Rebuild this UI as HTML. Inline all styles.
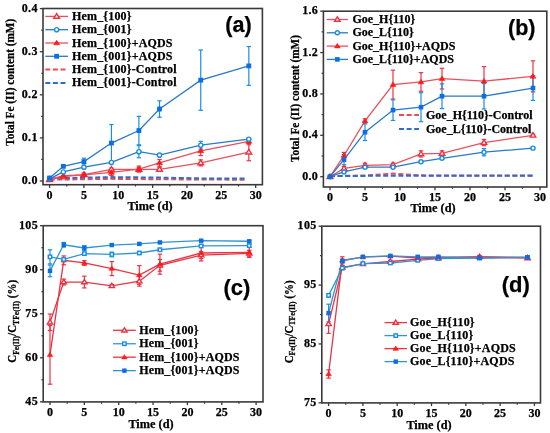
<!DOCTYPE html>
<html><head><meta charset="utf-8"><title>Fe(II) figure</title>
<style>html,body{margin:0;padding:0;background:#fff;}body{width:550px;height:433px;overflow:hidden;}svg{display:block;filter:blur(0.3px);font-size:12px;} text{stroke:#000;stroke-width:0.25px;fill:#000;} .s{font-family:"Liberation Serif",serif;font-weight:bold;} .a{font-family:"Liberation Sans",sans-serif;font-weight:bold;}</style>
</head><body>
<svg width="550" height="433" viewBox="0 0 550 433">
<rect width="550" height="433" fill="#fff"/>
<rect x="43" y="8.5" width="219.4" height="176.2" fill="none" stroke="#3a3a3a" stroke-width="1.6"/>
<line x1="49.6" y1="184.7" x2="49.6" y2="187.9" stroke="#3a3a3a" stroke-width="1.3" />
<text class="s" x="49.6" y="198.7" text-anchor="middle">0</text>
<line x1="83.95" y1="184.7" x2="83.95" y2="187.9" stroke="#3a3a3a" stroke-width="1.3" />
<text class="s" x="83.95" y="198.7" text-anchor="middle">5</text>
<line x1="118.3" y1="184.7" x2="118.3" y2="187.9" stroke="#3a3a3a" stroke-width="1.3" />
<text class="s" x="118.3" y="198.7" text-anchor="middle">10</text>
<line x1="152.65" y1="184.7" x2="152.65" y2="187.9" stroke="#3a3a3a" stroke-width="1.3" />
<text class="s" x="152.65" y="198.7" text-anchor="middle">15</text>
<line x1="187" y1="184.7" x2="187" y2="187.9" stroke="#3a3a3a" stroke-width="1.3" />
<text class="s" x="187" y="198.7" text-anchor="middle">20</text>
<line x1="221.35" y1="184.7" x2="221.35" y2="187.9" stroke="#3a3a3a" stroke-width="1.3" />
<text class="s" x="221.35" y="198.7" text-anchor="middle">25</text>
<line x1="255.7" y1="184.7" x2="255.7" y2="187.9" stroke="#3a3a3a" stroke-width="1.3" />
<text class="s" x="255.7" y="198.7" text-anchor="middle">30</text>
<line x1="66.78" y1="184.7" x2="66.78" y2="186.5" stroke="#3a3a3a" stroke-width="1.2" />
<line x1="101.12" y1="184.7" x2="101.12" y2="186.5" stroke="#3a3a3a" stroke-width="1.2" />
<line x1="135.47" y1="184.7" x2="135.47" y2="186.5" stroke="#3a3a3a" stroke-width="1.2" />
<line x1="169.83" y1="184.7" x2="169.83" y2="186.5" stroke="#3a3a3a" stroke-width="1.2" />
<line x1="204.17" y1="184.7" x2="204.17" y2="186.5" stroke="#3a3a3a" stroke-width="1.2" />
<line x1="238.53" y1="184.7" x2="238.53" y2="186.5" stroke="#3a3a3a" stroke-width="1.2" />
<line x1="39.8" y1="181" x2="43" y2="181" stroke="#3a3a3a" stroke-width="1.3" />
<text class="s" x="37.8" y="184" text-anchor="end" letter-spacing="0.35">0.0</text>
<line x1="39.8" y1="137.9" x2="43" y2="137.9" stroke="#3a3a3a" stroke-width="1.3" />
<text class="s" x="37.8" y="140.9" text-anchor="end" letter-spacing="0.35">0.1</text>
<line x1="39.8" y1="94.8" x2="43" y2="94.8" stroke="#3a3a3a" stroke-width="1.3" />
<text class="s" x="37.8" y="97.8" text-anchor="end" letter-spacing="0.35">0.2</text>
<line x1="39.8" y1="51.7" x2="43" y2="51.7" stroke="#3a3a3a" stroke-width="1.3" />
<text class="s" x="37.8" y="54.7" text-anchor="end" letter-spacing="0.35">0.3</text>
<line x1="39.8" y1="8.6" x2="43" y2="8.6" stroke="#3a3a3a" stroke-width="1.3" />
<text class="s" x="37.8" y="11.6" text-anchor="end" letter-spacing="0.35">0.4</text>
<line x1="41.2" y1="159.45" x2="43" y2="159.45" stroke="#3a3a3a" stroke-width="1.2" />
<line x1="41.2" y1="116.35" x2="43" y2="116.35" stroke="#3a3a3a" stroke-width="1.2" />
<line x1="41.2" y1="73.25" x2="43" y2="73.25" stroke="#3a3a3a" stroke-width="1.2" />
<line x1="41.2" y1="30.15" x2="43" y2="30.15" stroke="#3a3a3a" stroke-width="1.2" />
<text class="s" x="150" y="210.3" font-size="12.3" text-anchor="middle">Time (d)</text>
<text class="s" transform="translate(14,82.3) rotate(-90) scale(1,1.1)" font-size="11.25" text-anchor="middle">Total Fe (II) content (mM)</text>
<text class="a" x="225.3" y="31.6" font-size="21.5">(a)</text>
<polyline points="49.6,179.71 111.43,178.84 159.52,179.28 245.4,179.71" fill="none" stroke="#f04a55" stroke-width="2" stroke-dasharray="5,2.6"/>
<polyline points="49.6,178.41 111.43,177.12 159.52,177.55 200.74,178.41 245.4,178.41" fill="none" stroke="#2a6fd0" stroke-width="2" stroke-dasharray="5,2.6"/>
<polyline points="49.6,179.71 63.34,176.69 83.95,174.53 111.43,169.36 138.91,169.36 159.52,169.36 200.74,162.9 248.83,152.12" fill="none" stroke="#e8505c" stroke-width="1.3"/>
<polyline points="49.6,179.28 63.34,175.61 83.95,174.97 111.43,172.38 138.91,169.15 159.52,162.9 200.74,150.83 248.83,141.35" fill="none" stroke="#e8505c" stroke-width="1.3"/>
<polyline points="49.6,178.84 63.34,171.95 83.95,167.21 111.43,162.47 138.91,151.69 159.52,155.14 200.74,145.23 248.83,139.19" fill="none" stroke="#2a78c8" stroke-width="1.3"/>
<polyline points="49.6,177.98 63.34,166.35 83.95,161.6 111.43,143.07 138.91,130.57 159.52,109.02 200.74,80.15 248.83,65.92" fill="none" stroke="#2a78c8" stroke-width="1.3"/>
<line x1="83.95" y1="173.24" x2="83.95" y2="175.83" stroke="#f03040" stroke-width="1.2" />
<line x1="81.75" y1="173.24" x2="86.15" y2="173.24" stroke="#f03040" stroke-width="1.2" />
<line x1="81.75" y1="175.83" x2="86.15" y2="175.83" stroke="#f03040" stroke-width="1.2" />
<line x1="111.43" y1="168.07" x2="111.43" y2="170.66" stroke="#f03040" stroke-width="1.2" />
<line x1="109.23" y1="168.07" x2="113.63" y2="168.07" stroke="#f03040" stroke-width="1.2" />
<line x1="109.23" y1="170.66" x2="113.63" y2="170.66" stroke="#f03040" stroke-width="1.2" />
<line x1="138.91" y1="167.64" x2="138.91" y2="171.09" stroke="#f03040" stroke-width="1.2" />
<line x1="136.71" y1="167.64" x2="141.11" y2="167.64" stroke="#f03040" stroke-width="1.2" />
<line x1="136.71" y1="171.09" x2="141.11" y2="171.09" stroke="#f03040" stroke-width="1.2" />
<line x1="159.52" y1="167.64" x2="159.52" y2="171.09" stroke="#f03040" stroke-width="1.2" />
<line x1="157.32" y1="167.64" x2="161.72" y2="167.64" stroke="#f03040" stroke-width="1.2" />
<line x1="157.32" y1="171.09" x2="161.72" y2="171.09" stroke="#f03040" stroke-width="1.2" />
<line x1="200.74" y1="159.88" x2="200.74" y2="165.91" stroke="#f03040" stroke-width="1.2" />
<line x1="198.54" y1="159.88" x2="202.94" y2="159.88" stroke="#f03040" stroke-width="1.2" />
<line x1="198.54" y1="165.91" x2="202.94" y2="165.91" stroke="#f03040" stroke-width="1.2" />
<line x1="248.83" y1="143.5" x2="248.83" y2="160.74" stroke="#f03040" stroke-width="1.2" />
<line x1="246.63" y1="143.5" x2="251.03" y2="143.5" stroke="#f03040" stroke-width="1.2" />
<line x1="246.63" y1="160.74" x2="251.03" y2="160.74" stroke="#f03040" stroke-width="1.2" />
<line x1="83.95" y1="173.24" x2="83.95" y2="176.69" stroke="#f03040" stroke-width="1.2" />
<line x1="81.75" y1="173.24" x2="86.15" y2="173.24" stroke="#f03040" stroke-width="1.2" />
<line x1="81.75" y1="176.69" x2="86.15" y2="176.69" stroke="#f03040" stroke-width="1.2" />
<line x1="111.43" y1="169.36" x2="111.43" y2="175.4" stroke="#f03040" stroke-width="1.2" />
<line x1="109.23" y1="169.36" x2="113.63" y2="169.36" stroke="#f03040" stroke-width="1.2" />
<line x1="109.23" y1="175.4" x2="113.63" y2="175.4" stroke="#f03040" stroke-width="1.2" />
<line x1="138.91" y1="166.13" x2="138.91" y2="172.16" stroke="#f03040" stroke-width="1.2" />
<line x1="136.71" y1="166.13" x2="141.11" y2="166.13" stroke="#f03040" stroke-width="1.2" />
<line x1="136.71" y1="172.16" x2="141.11" y2="172.16" stroke="#f03040" stroke-width="1.2" />
<line x1="159.52" y1="159.45" x2="159.52" y2="166.35" stroke="#f03040" stroke-width="1.2" />
<line x1="157.32" y1="159.45" x2="161.72" y2="159.45" stroke="#f03040" stroke-width="1.2" />
<line x1="157.32" y1="166.35" x2="161.72" y2="166.35" stroke="#f03040" stroke-width="1.2" />
<line x1="200.74" y1="146.09" x2="200.74" y2="155.57" stroke="#f03040" stroke-width="1.2" />
<line x1="198.54" y1="146.09" x2="202.94" y2="146.09" stroke="#f03040" stroke-width="1.2" />
<line x1="198.54" y1="155.57" x2="202.94" y2="155.57" stroke="#f03040" stroke-width="1.2" />
<line x1="248.83" y1="137.9" x2="248.83" y2="144.8" stroke="#f03040" stroke-width="1.2" />
<line x1="246.63" y1="137.9" x2="251.03" y2="137.9" stroke="#f03040" stroke-width="1.2" />
<line x1="246.63" y1="144.8" x2="251.03" y2="144.8" stroke="#f03040" stroke-width="1.2" />
<line x1="138.91" y1="145.66" x2="138.91" y2="157.73" stroke="#1a8ee0" stroke-width="1.2" />
<line x1="136.71" y1="145.66" x2="141.11" y2="145.66" stroke="#1a8ee0" stroke-width="1.2" />
<line x1="136.71" y1="157.73" x2="141.11" y2="157.73" stroke="#1a8ee0" stroke-width="1.2" />
<line x1="159.52" y1="153.85" x2="159.52" y2="156.43" stroke="#1a8ee0" stroke-width="1.2" />
<line x1="157.32" y1="153.85" x2="161.72" y2="153.85" stroke="#1a8ee0" stroke-width="1.2" />
<line x1="157.32" y1="156.43" x2="161.72" y2="156.43" stroke="#1a8ee0" stroke-width="1.2" />
<line x1="200.74" y1="141.35" x2="200.74" y2="149.11" stroke="#1a8ee0" stroke-width="1.2" />
<line x1="198.54" y1="141.35" x2="202.94" y2="141.35" stroke="#1a8ee0" stroke-width="1.2" />
<line x1="198.54" y1="149.11" x2="202.94" y2="149.11" stroke="#1a8ee0" stroke-width="1.2" />
<line x1="248.83" y1="137.9" x2="248.83" y2="140.49" stroke="#1a8ee0" stroke-width="1.2" />
<line x1="246.63" y1="137.9" x2="251.03" y2="137.9" stroke="#1a8ee0" stroke-width="1.2" />
<line x1="246.63" y1="140.49" x2="251.03" y2="140.49" stroke="#1a8ee0" stroke-width="1.2" />
<line x1="83.95" y1="158.16" x2="83.95" y2="165.05" stroke="#1a8ee0" stroke-width="1.2" />
<line x1="81.75" y1="158.16" x2="86.15" y2="158.16" stroke="#1a8ee0" stroke-width="1.2" />
<line x1="81.75" y1="165.05" x2="86.15" y2="165.05" stroke="#1a8ee0" stroke-width="1.2" />
<line x1="111.43" y1="124.54" x2="111.43" y2="161.6" stroke="#1a8ee0" stroke-width="1.2" />
<line x1="109.23" y1="124.54" x2="113.63" y2="124.54" stroke="#1a8ee0" stroke-width="1.2" />
<line x1="109.23" y1="161.6" x2="113.63" y2="161.6" stroke="#1a8ee0" stroke-width="1.2" />
<line x1="138.91" y1="116.35" x2="138.91" y2="144.8" stroke="#1a8ee0" stroke-width="1.2" />
<line x1="136.71" y1="116.35" x2="141.11" y2="116.35" stroke="#1a8ee0" stroke-width="1.2" />
<line x1="136.71" y1="144.8" x2="141.11" y2="144.8" stroke="#1a8ee0" stroke-width="1.2" />
<line x1="159.52" y1="100.83" x2="159.52" y2="117.21" stroke="#1a8ee0" stroke-width="1.2" />
<line x1="157.32" y1="100.83" x2="161.72" y2="100.83" stroke="#1a8ee0" stroke-width="1.2" />
<line x1="157.32" y1="117.21" x2="161.72" y2="117.21" stroke="#1a8ee0" stroke-width="1.2" />
<line x1="200.74" y1="49.98" x2="200.74" y2="110.32" stroke="#1a8ee0" stroke-width="1.2" />
<line x1="198.54" y1="49.98" x2="202.94" y2="49.98" stroke="#1a8ee0" stroke-width="1.2" />
<line x1="198.54" y1="110.32" x2="202.94" y2="110.32" stroke="#1a8ee0" stroke-width="1.2" />
<line x1="248.83" y1="46.53" x2="248.83" y2="85.32" stroke="#1a8ee0" stroke-width="1.2" />
<line x1="246.63" y1="46.53" x2="251.03" y2="46.53" stroke="#1a8ee0" stroke-width="1.2" />
<line x1="246.63" y1="85.32" x2="251.03" y2="85.32" stroke="#1a8ee0" stroke-width="1.2" />
<polygon points="49.6,176.9 52.48,181.58 46.72,181.58" fill="#fff" stroke="#f03040" stroke-width="1.4"/>
<polygon points="63.34,173.88 66.22,178.56 60.46,178.56" fill="#fff" stroke="#f03040" stroke-width="1.4"/>
<polygon points="83.95,171.73 86.83,176.41 81.07,176.41" fill="#fff" stroke="#f03040" stroke-width="1.4"/>
<polygon points="111.43,166.56 114.31,171.24 108.55,171.24" fill="#fff" stroke="#f03040" stroke-width="1.4"/>
<polygon points="138.91,166.56 141.79,171.24 136.03,171.24" fill="#fff" stroke="#f03040" stroke-width="1.4"/>
<polygon points="159.52,166.56 162.4,171.24 156.64,171.24" fill="#fff" stroke="#f03040" stroke-width="1.4"/>
<polygon points="200.74,160.09 203.62,164.77 197.86,164.77" fill="#fff" stroke="#f03040" stroke-width="1.4"/>
<polygon points="248.83,149.31 251.71,154 245.95,154" fill="#fff" stroke="#f03040" stroke-width="1.4"/>
<polygon points="49.6,176.47 52.6,181.15 46.6,181.15" fill="#ff1a1a" stroke="#ff1a1a" stroke-width="0.6"/>
<polygon points="63.34,172.8 66.34,177.48 60.34,177.48" fill="#ff1a1a" stroke="#ff1a1a" stroke-width="0.6"/>
<polygon points="83.95,172.16 86.95,176.84 80.95,176.84" fill="#ff1a1a" stroke="#ff1a1a" stroke-width="0.6"/>
<polygon points="111.43,169.57 114.43,174.25 108.43,174.25" fill="#ff1a1a" stroke="#ff1a1a" stroke-width="0.6"/>
<polygon points="138.91,166.34 141.91,171.02 135.91,171.02" fill="#ff1a1a" stroke="#ff1a1a" stroke-width="0.6"/>
<polygon points="159.52,160.09 162.52,164.77 156.52,164.77" fill="#ff1a1a" stroke="#ff1a1a" stroke-width="0.6"/>
<polygon points="200.74,148.02 203.74,152.7 197.74,152.7" fill="#ff1a1a" stroke="#ff1a1a" stroke-width="0.6"/>
<polygon points="248.83,138.54 251.83,143.22 245.83,143.22" fill="#ff1a1a" stroke="#ff1a1a" stroke-width="0.6"/>
<circle cx="49.6" cy="178.84" r="2.1" fill="#fff" stroke="#1a8ee0" stroke-width="1.4"/>
<circle cx="63.34" cy="171.95" r="2.1" fill="#fff" stroke="#1a8ee0" stroke-width="1.4"/>
<circle cx="83.95" cy="167.21" r="2.1" fill="#fff" stroke="#1a8ee0" stroke-width="1.4"/>
<circle cx="111.43" cy="162.47" r="2.1" fill="#fff" stroke="#1a8ee0" stroke-width="1.4"/>
<circle cx="138.91" cy="151.69" r="2.1" fill="#fff" stroke="#1a8ee0" stroke-width="1.4"/>
<circle cx="159.52" cy="155.14" r="2.1" fill="#fff" stroke="#1a8ee0" stroke-width="1.4"/>
<circle cx="200.74" cy="145.23" r="2.1" fill="#fff" stroke="#1a8ee0" stroke-width="1.4"/>
<circle cx="248.83" cy="139.19" r="2.1" fill="#fff" stroke="#1a8ee0" stroke-width="1.4"/>
<rect x="47.2" y="175.58" width="4.8" height="4.8" fill="#0a6ee6"/>
<rect x="60.94" y="163.95" width="4.8" height="4.8" fill="#0a6ee6"/>
<rect x="81.55" y="159.2" width="4.8" height="4.8" fill="#0a6ee6"/>
<rect x="109.03" y="140.67" width="4.8" height="4.8" fill="#0a6ee6"/>
<rect x="136.51" y="128.17" width="4.8" height="4.8" fill="#0a6ee6"/>
<rect x="157.12" y="106.62" width="4.8" height="4.8" fill="#0a6ee6"/>
<rect x="198.34" y="77.75" width="4.8" height="4.8" fill="#0a6ee6"/>
<rect x="246.43" y="63.52" width="4.8" height="4.8" fill="#0a6ee6"/>
<line x1="45.3" y1="16.4" x2="68" y2="16.4" stroke="#e8505c" stroke-width="1.3" />
<polygon points="56.65,13.59 59.53,18.27 53.77,18.27" fill="#fff" stroke="#f03040" stroke-width="1.4"/>
<text class="s" x="72" y="19.9" letter-spacing="0.17">Hem_{100}</text>
<line x1="45.3" y1="29.7" x2="68" y2="29.7" stroke="#2a78c8" stroke-width="1.3" />
<circle cx="56.65" cy="29.7" r="2.1" fill="#fff" stroke="#1a8ee0" stroke-width="1.4"/>
<text class="s" x="72" y="33.2" letter-spacing="0.17">Hem_{001}</text>
<line x1="45.3" y1="43" x2="68" y2="43" stroke="#e8505c" stroke-width="1.3" />
<polygon points="56.65,40.19 59.65,44.87 53.65,44.87" fill="#ff1a1a" stroke="#ff1a1a" stroke-width="0.6"/>
<text class="s" x="72" y="46.5" letter-spacing="0.17">Hem_{100}+AQDS</text>
<line x1="45.3" y1="56.3" x2="68" y2="56.3" stroke="#2a78c8" stroke-width="1.3" />
<rect x="54.25" y="53.9" width="4.8" height="4.8" fill="#0a6ee6"/>
<text class="s" x="72" y="59.8" letter-spacing="0.17">Hem_{001}+AQDS</text>
<line x1="45.3" y1="69.6" x2="65.5" y2="69.6" stroke="#f04a55" stroke-width="2" stroke-dasharray="5,2.6"/>
<text class="s" x="72" y="73.1" letter-spacing="0.17">Hem_{100}-Control</text>
<line x1="45.3" y1="82.9" x2="65.5" y2="82.9" stroke="#2a6fd0" stroke-width="2" stroke-dasharray="5,2.6"/>
<text class="s" x="72" y="86.4" letter-spacing="0.17">Hem_{001}-Control</text>
<rect x="323.4" y="11.2" width="223.4" height="175.8" fill="none" stroke="#3a3a3a" stroke-width="1.6"/>
<line x1="330" y1="187" x2="330" y2="190.2" stroke="#3a3a3a" stroke-width="1.3" />
<text class="s" x="330" y="201" text-anchor="middle">0</text>
<line x1="365" y1="187" x2="365" y2="190.2" stroke="#3a3a3a" stroke-width="1.3" />
<text class="s" x="365" y="201" text-anchor="middle">5</text>
<line x1="400" y1="187" x2="400" y2="190.2" stroke="#3a3a3a" stroke-width="1.3" />
<text class="s" x="400" y="201" text-anchor="middle">10</text>
<line x1="435" y1="187" x2="435" y2="190.2" stroke="#3a3a3a" stroke-width="1.3" />
<text class="s" x="435" y="201" text-anchor="middle">15</text>
<line x1="470" y1="187" x2="470" y2="190.2" stroke="#3a3a3a" stroke-width="1.3" />
<text class="s" x="470" y="201" text-anchor="middle">20</text>
<line x1="505" y1="187" x2="505" y2="190.2" stroke="#3a3a3a" stroke-width="1.3" />
<text class="s" x="505" y="201" text-anchor="middle">25</text>
<line x1="540" y1="187" x2="540" y2="190.2" stroke="#3a3a3a" stroke-width="1.3" />
<text class="s" x="540" y="201" text-anchor="middle">30</text>
<line x1="347.5" y1="187" x2="347.5" y2="188.8" stroke="#3a3a3a" stroke-width="1.2" />
<line x1="382.5" y1="187" x2="382.5" y2="188.8" stroke="#3a3a3a" stroke-width="1.2" />
<line x1="417.5" y1="187" x2="417.5" y2="188.8" stroke="#3a3a3a" stroke-width="1.2" />
<line x1="452.5" y1="187" x2="452.5" y2="188.8" stroke="#3a3a3a" stroke-width="1.2" />
<line x1="487.5" y1="187" x2="487.5" y2="188.8" stroke="#3a3a3a" stroke-width="1.2" />
<line x1="522.5" y1="187" x2="522.5" y2="188.8" stroke="#3a3a3a" stroke-width="1.2" />
<line x1="320.2" y1="176.7" x2="323.4" y2="176.7" stroke="#3a3a3a" stroke-width="1.3" />
<text class="s" x="318.2" y="179.7" text-anchor="end" letter-spacing="0.35">0.0</text>
<line x1="320.2" y1="135.32" x2="323.4" y2="135.32" stroke="#3a3a3a" stroke-width="1.3" />
<text class="s" x="318.2" y="138.32" text-anchor="end" letter-spacing="0.35">0.4</text>
<line x1="320.2" y1="93.95" x2="323.4" y2="93.95" stroke="#3a3a3a" stroke-width="1.3" />
<text class="s" x="318.2" y="96.95" text-anchor="end" letter-spacing="0.35">0.8</text>
<line x1="320.2" y1="52.57" x2="323.4" y2="52.57" stroke="#3a3a3a" stroke-width="1.3" />
<text class="s" x="318.2" y="55.57" text-anchor="end" letter-spacing="0.35">1.2</text>
<line x1="320.2" y1="11.2" x2="323.4" y2="11.2" stroke="#3a3a3a" stroke-width="1.3" />
<text class="s" x="318.2" y="14.2" text-anchor="end" letter-spacing="0.35">1.6</text>
<line x1="321.6" y1="156.01" x2="323.4" y2="156.01" stroke="#3a3a3a" stroke-width="1.2" />
<line x1="321.6" y1="114.64" x2="323.4" y2="114.64" stroke="#3a3a3a" stroke-width="1.2" />
<line x1="321.6" y1="73.26" x2="323.4" y2="73.26" stroke="#3a3a3a" stroke-width="1.2" />
<line x1="321.6" y1="31.88" x2="323.4" y2="31.88" stroke="#3a3a3a" stroke-width="1.2" />
<text class="s" x="433" y="212" font-size="12.3" text-anchor="middle">Time (d)</text>
<text class="s" transform="translate(299.1,98.5) rotate(-90) scale(1,1.1)" font-size="11.25" text-anchor="middle">Total Fe (II) content (mM)</text>
<text class="a" x="508" y="35.2" font-size="21.5">(b)</text>
<polyline points="330,176.18 365,175.46 393,173.6 421,175.36 442,175.46 484,175.46 533,175.46" fill="none" stroke="#f04a55" stroke-width="2" stroke-dasharray="5,2.6"/>
<polyline points="330,176.18 393,175.67 533,175.67" fill="none" stroke="#2a6fd0" stroke-width="2" stroke-dasharray="5,2.6"/>
<polyline points="330,176.7 344,168.42 365,165.32 393,164.7 421,153.94 442,153.43 484,142.56 533,135.32" fill="none" stroke="#e8505c" stroke-width="1.3"/>
<polyline points="330,176.7 344,171.94 365,167.18 393,167.18 421,161.7 442,158.29 484,152.18 533,148.15" fill="none" stroke="#2a78c8" stroke-width="1.3"/>
<polyline points="330,176.7 344,155.49 365,120.84 393,84.64 421,81.95 442,78.64 484,81.12 533,76.36" fill="none" stroke="#e8505c" stroke-width="1.3"/>
<polyline points="330,176.7 344,159.63 365,132.22 393,110.08 421,107.19 442,96.22 484,96.22 533,88.05" fill="none" stroke="#2a78c8" stroke-width="1.3"/>
<line x1="344" y1="166.36" x2="344" y2="170.49" stroke="#f03040" stroke-width="1.2" />
<line x1="341.8" y1="166.36" x2="346.2" y2="166.36" stroke="#f03040" stroke-width="1.2" />
<line x1="341.8" y1="170.49" x2="346.2" y2="170.49" stroke="#f03040" stroke-width="1.2" />
<line x1="365" y1="163.25" x2="365" y2="167.39" stroke="#f03040" stroke-width="1.2" />
<line x1="362.8" y1="163.25" x2="367.2" y2="163.25" stroke="#f03040" stroke-width="1.2" />
<line x1="362.8" y1="167.39" x2="367.2" y2="167.39" stroke="#f03040" stroke-width="1.2" />
<line x1="393" y1="163.15" x2="393" y2="166.25" stroke="#f03040" stroke-width="1.2" />
<line x1="390.8" y1="163.15" x2="395.2" y2="163.15" stroke="#f03040" stroke-width="1.2" />
<line x1="390.8" y1="166.25" x2="395.2" y2="166.25" stroke="#f03040" stroke-width="1.2" />
<line x1="421" y1="150.84" x2="421" y2="157.05" stroke="#f03040" stroke-width="1.2" />
<line x1="418.8" y1="150.84" x2="423.2" y2="150.84" stroke="#f03040" stroke-width="1.2" />
<line x1="418.8" y1="157.05" x2="423.2" y2="157.05" stroke="#f03040" stroke-width="1.2" />
<line x1="442" y1="150.84" x2="442" y2="156.01" stroke="#f03040" stroke-width="1.2" />
<line x1="439.8" y1="150.84" x2="444.2" y2="150.84" stroke="#f03040" stroke-width="1.2" />
<line x1="439.8" y1="156.01" x2="444.2" y2="156.01" stroke="#f03040" stroke-width="1.2" />
<line x1="484" y1="139.46" x2="484" y2="145.67" stroke="#f03040" stroke-width="1.2" />
<line x1="481.8" y1="139.46" x2="486.2" y2="139.46" stroke="#f03040" stroke-width="1.2" />
<line x1="481.8" y1="145.67" x2="486.2" y2="145.67" stroke="#f03040" stroke-width="1.2" />
<line x1="533" y1="134.29" x2="533" y2="136.36" stroke="#f03040" stroke-width="1.2" />
<line x1="530.8" y1="134.29" x2="535.2" y2="134.29" stroke="#f03040" stroke-width="1.2" />
<line x1="530.8" y1="136.36" x2="535.2" y2="136.36" stroke="#f03040" stroke-width="1.2" />
<line x1="344" y1="170.91" x2="344" y2="172.98" stroke="#1a8ee0" stroke-width="1.2" />
<line x1="341.8" y1="170.91" x2="346.2" y2="170.91" stroke="#1a8ee0" stroke-width="1.2" />
<line x1="341.8" y1="172.98" x2="346.2" y2="172.98" stroke="#1a8ee0" stroke-width="1.2" />
<line x1="365" y1="166.15" x2="365" y2="168.22" stroke="#1a8ee0" stroke-width="1.2" />
<line x1="362.8" y1="166.15" x2="367.2" y2="166.15" stroke="#1a8ee0" stroke-width="1.2" />
<line x1="362.8" y1="168.22" x2="367.2" y2="168.22" stroke="#1a8ee0" stroke-width="1.2" />
<line x1="393" y1="166.15" x2="393" y2="168.22" stroke="#1a8ee0" stroke-width="1.2" />
<line x1="390.8" y1="166.15" x2="395.2" y2="166.15" stroke="#1a8ee0" stroke-width="1.2" />
<line x1="390.8" y1="168.22" x2="395.2" y2="168.22" stroke="#1a8ee0" stroke-width="1.2" />
<line x1="421" y1="160.67" x2="421" y2="162.74" stroke="#1a8ee0" stroke-width="1.2" />
<line x1="418.8" y1="160.67" x2="423.2" y2="160.67" stroke="#1a8ee0" stroke-width="1.2" />
<line x1="418.8" y1="162.74" x2="423.2" y2="162.74" stroke="#1a8ee0" stroke-width="1.2" />
<line x1="442" y1="157.25" x2="442" y2="159.32" stroke="#1a8ee0" stroke-width="1.2" />
<line x1="439.8" y1="157.25" x2="444.2" y2="157.25" stroke="#1a8ee0" stroke-width="1.2" />
<line x1="439.8" y1="159.32" x2="444.2" y2="159.32" stroke="#1a8ee0" stroke-width="1.2" />
<line x1="484" y1="148.56" x2="484" y2="155.81" stroke="#1a8ee0" stroke-width="1.2" />
<line x1="481.8" y1="148.56" x2="486.2" y2="148.56" stroke="#1a8ee0" stroke-width="1.2" />
<line x1="481.8" y1="155.81" x2="486.2" y2="155.81" stroke="#1a8ee0" stroke-width="1.2" />
<line x1="533" y1="147.12" x2="533" y2="149.18" stroke="#1a8ee0" stroke-width="1.2" />
<line x1="530.8" y1="147.12" x2="535.2" y2="147.12" stroke="#1a8ee0" stroke-width="1.2" />
<line x1="530.8" y1="149.18" x2="535.2" y2="149.18" stroke="#1a8ee0" stroke-width="1.2" />
<line x1="344" y1="152.39" x2="344" y2="158.6" stroke="#f03040" stroke-width="1.2" />
<line x1="341.8" y1="152.39" x2="346.2" y2="152.39" stroke="#f03040" stroke-width="1.2" />
<line x1="341.8" y1="158.6" x2="346.2" y2="158.6" stroke="#f03040" stroke-width="1.2" />
<line x1="365" y1="118.77" x2="365" y2="122.91" stroke="#f03040" stroke-width="1.2" />
<line x1="362.8" y1="118.77" x2="367.2" y2="118.77" stroke="#f03040" stroke-width="1.2" />
<line x1="362.8" y1="122.91" x2="367.2" y2="122.91" stroke="#f03040" stroke-width="1.2" />
<line x1="393" y1="70.16" x2="393" y2="99.12" stroke="#f03040" stroke-width="1.2" />
<line x1="390.8" y1="70.16" x2="395.2" y2="70.16" stroke="#f03040" stroke-width="1.2" />
<line x1="390.8" y1="99.12" x2="395.2" y2="99.12" stroke="#f03040" stroke-width="1.2" />
<line x1="421" y1="72.64" x2="421" y2="91.26" stroke="#f03040" stroke-width="1.2" />
<line x1="418.8" y1="72.64" x2="423.2" y2="72.64" stroke="#f03040" stroke-width="1.2" />
<line x1="418.8" y1="91.26" x2="423.2" y2="91.26" stroke="#f03040" stroke-width="1.2" />
<line x1="442" y1="68.29" x2="442" y2="88.98" stroke="#f03040" stroke-width="1.2" />
<line x1="439.8" y1="68.29" x2="444.2" y2="68.29" stroke="#f03040" stroke-width="1.2" />
<line x1="439.8" y1="88.98" x2="444.2" y2="88.98" stroke="#f03040" stroke-width="1.2" />
<line x1="484" y1="66.64" x2="484" y2="95.6" stroke="#f03040" stroke-width="1.2" />
<line x1="481.8" y1="66.64" x2="486.2" y2="66.64" stroke="#f03040" stroke-width="1.2" />
<line x1="481.8" y1="95.6" x2="486.2" y2="95.6" stroke="#f03040" stroke-width="1.2" />
<line x1="533" y1="60.85" x2="533" y2="91.88" stroke="#f03040" stroke-width="1.2" />
<line x1="530.8" y1="60.85" x2="535.2" y2="60.85" stroke="#f03040" stroke-width="1.2" />
<line x1="530.8" y1="91.88" x2="535.2" y2="91.88" stroke="#f03040" stroke-width="1.2" />
<line x1="344" y1="154.46" x2="344" y2="164.8" stroke="#1a8ee0" stroke-width="1.2" />
<line x1="341.8" y1="154.46" x2="346.2" y2="154.46" stroke="#1a8ee0" stroke-width="1.2" />
<line x1="341.8" y1="164.8" x2="346.2" y2="164.8" stroke="#1a8ee0" stroke-width="1.2" />
<line x1="365" y1="123.95" x2="365" y2="140.5" stroke="#1a8ee0" stroke-width="1.2" />
<line x1="362.8" y1="123.95" x2="367.2" y2="123.95" stroke="#1a8ee0" stroke-width="1.2" />
<line x1="362.8" y1="140.5" x2="367.2" y2="140.5" stroke="#1a8ee0" stroke-width="1.2" />
<line x1="393" y1="99.74" x2="393" y2="120.43" stroke="#1a8ee0" stroke-width="1.2" />
<line x1="390.8" y1="99.74" x2="395.2" y2="99.74" stroke="#1a8ee0" stroke-width="1.2" />
<line x1="390.8" y1="120.43" x2="395.2" y2="120.43" stroke="#1a8ee0" stroke-width="1.2" />
<line x1="421" y1="92.71" x2="421" y2="121.67" stroke="#1a8ee0" stroke-width="1.2" />
<line x1="418.8" y1="92.71" x2="423.2" y2="92.71" stroke="#1a8ee0" stroke-width="1.2" />
<line x1="418.8" y1="121.67" x2="423.2" y2="121.67" stroke="#1a8ee0" stroke-width="1.2" />
<line x1="442" y1="83.81" x2="442" y2="108.64" stroke="#1a8ee0" stroke-width="1.2" />
<line x1="439.8" y1="83.81" x2="444.2" y2="83.81" stroke="#1a8ee0" stroke-width="1.2" />
<line x1="439.8" y1="108.64" x2="444.2" y2="108.64" stroke="#1a8ee0" stroke-width="1.2" />
<line x1="484" y1="83.5" x2="484" y2="108.95" stroke="#1a8ee0" stroke-width="1.2" />
<line x1="481.8" y1="83.5" x2="486.2" y2="83.5" stroke="#1a8ee0" stroke-width="1.2" />
<line x1="481.8" y1="108.95" x2="486.2" y2="108.95" stroke="#1a8ee0" stroke-width="1.2" />
<line x1="533" y1="75.64" x2="533" y2="100.46" stroke="#1a8ee0" stroke-width="1.2" />
<line x1="530.8" y1="75.64" x2="535.2" y2="75.64" stroke="#1a8ee0" stroke-width="1.2" />
<line x1="530.8" y1="100.46" x2="535.2" y2="100.46" stroke="#1a8ee0" stroke-width="1.2" />
<polygon points="330,174.01 332.76,178.49 327.24,178.49" fill="#fff" stroke="#f03040" stroke-width="1.4"/>
<polygon points="344,165.73 346.76,170.22 341.24,170.22" fill="#fff" stroke="#f03040" stroke-width="1.4"/>
<polygon points="365,162.63 367.76,167.12 362.24,167.12" fill="#fff" stroke="#f03040" stroke-width="1.4"/>
<polygon points="393,162.01 395.76,166.49 390.24,166.49" fill="#fff" stroke="#f03040" stroke-width="1.4"/>
<polygon points="421,151.25 423.76,155.74 418.24,155.74" fill="#fff" stroke="#f03040" stroke-width="1.4"/>
<polygon points="442,150.73 444.76,155.22 439.24,155.22" fill="#fff" stroke="#f03040" stroke-width="1.4"/>
<polygon points="484,139.87 486.76,144.36 481.24,144.36" fill="#fff" stroke="#f03040" stroke-width="1.4"/>
<polygon points="533,132.63 535.76,137.12 530.24,137.12" fill="#fff" stroke="#f03040" stroke-width="1.4"/>
<circle cx="330" cy="176.7" r="2" fill="#fff" stroke="#1a8ee0" stroke-width="1.4"/>
<circle cx="344" cy="171.94" r="2" fill="#fff" stroke="#1a8ee0" stroke-width="1.4"/>
<circle cx="365" cy="167.18" r="2" fill="#fff" stroke="#1a8ee0" stroke-width="1.4"/>
<circle cx="393" cy="167.18" r="2" fill="#fff" stroke="#1a8ee0" stroke-width="1.4"/>
<circle cx="421" cy="161.7" r="2" fill="#fff" stroke="#1a8ee0" stroke-width="1.4"/>
<circle cx="442" cy="158.29" r="2" fill="#fff" stroke="#1a8ee0" stroke-width="1.4"/>
<circle cx="484" cy="152.18" r="2" fill="#fff" stroke="#1a8ee0" stroke-width="1.4"/>
<circle cx="533" cy="148.15" r="2" fill="#fff" stroke="#1a8ee0" stroke-width="1.4"/>
<polygon points="330,174.01 332.88,178.49 327.12,178.49" fill="#ff1a1a" stroke="#ff1a1a" stroke-width="0.6"/>
<polygon points="344,152.8 346.88,157.29 341.12,157.29" fill="#ff1a1a" stroke="#ff1a1a" stroke-width="0.6"/>
<polygon points="365,118.15 367.88,122.64 362.12,122.64" fill="#ff1a1a" stroke="#ff1a1a" stroke-width="0.6"/>
<polygon points="393,81.95 395.88,86.43 390.12,86.43" fill="#ff1a1a" stroke="#ff1a1a" stroke-width="0.6"/>
<polygon points="421,79.26 423.88,83.74 418.12,83.74" fill="#ff1a1a" stroke="#ff1a1a" stroke-width="0.6"/>
<polygon points="442,75.95 444.88,80.43 439.12,80.43" fill="#ff1a1a" stroke="#ff1a1a" stroke-width="0.6"/>
<polygon points="484,78.43 486.88,82.92 481.12,82.92" fill="#ff1a1a" stroke="#ff1a1a" stroke-width="0.6"/>
<polygon points="533,73.67 535.88,78.16 530.12,78.16" fill="#ff1a1a" stroke="#ff1a1a" stroke-width="0.6"/>
<rect x="327.7" y="174.4" width="4.6" height="4.6" fill="#0a6ee6"/>
<rect x="341.7" y="157.33" width="4.6" height="4.6" fill="#0a6ee6"/>
<rect x="362.7" y="129.92" width="4.6" height="4.6" fill="#0a6ee6"/>
<rect x="390.7" y="107.78" width="4.6" height="4.6" fill="#0a6ee6"/>
<rect x="418.7" y="104.89" width="4.6" height="4.6" fill="#0a6ee6"/>
<rect x="439.7" y="93.92" width="4.6" height="4.6" fill="#0a6ee6"/>
<rect x="481.7" y="93.92" width="4.6" height="4.6" fill="#0a6ee6"/>
<rect x="530.7" y="85.75" width="4.6" height="4.6" fill="#0a6ee6"/>
<line x1="326.7" y1="19.5" x2="348" y2="19.5" stroke="#e8505c" stroke-width="1.3" />
<polygon points="337.35,16.81 340.11,21.29 334.59,21.29" fill="#fff" stroke="#f03040" stroke-width="1.4"/>
<text class="s" x="352.4" y="23" letter-spacing="0">Goe_H{110}</text>
<line x1="326.7" y1="32.8" x2="348" y2="32.8" stroke="#2a78c8" stroke-width="1.3" />
<circle cx="337.35" cy="32.8" r="2" fill="#fff" stroke="#1a8ee0" stroke-width="1.4"/>
<text class="s" x="352.4" y="36.3" letter-spacing="0">Goe_L{110}</text>
<line x1="326.7" y1="46.1" x2="348" y2="46.1" stroke="#e8505c" stroke-width="1.3" />
<polygon points="337.35,43.41 340.23,47.89 334.48,47.89" fill="#ff1a1a" stroke="#ff1a1a" stroke-width="0.6"/>
<text class="s" x="352.4" y="49.6" letter-spacing="0">Goe_H{110}+AQDS</text>
<line x1="326.7" y1="59.4" x2="348" y2="59.4" stroke="#2a78c8" stroke-width="1.3" />
<rect x="335.05" y="57.1" width="4.6" height="4.6" fill="#0a6ee6"/>
<text class="s" x="352.4" y="62.9" letter-spacing="0">Goe_L{110}+AQDS</text>
<rect x="43.2" y="225.7" width="219.8" height="176.2" fill="none" stroke="#3a3a3a" stroke-width="1.6"/>
<line x1="50" y1="401.9" x2="50" y2="405.1" stroke="#3a3a3a" stroke-width="1.3" />
<text class="s" x="50" y="415.9" text-anchor="middle">0</text>
<line x1="84.35" y1="401.9" x2="84.35" y2="405.1" stroke="#3a3a3a" stroke-width="1.3" />
<text class="s" x="84.35" y="415.9" text-anchor="middle">5</text>
<line x1="118.7" y1="401.9" x2="118.7" y2="405.1" stroke="#3a3a3a" stroke-width="1.3" />
<text class="s" x="118.7" y="415.9" text-anchor="middle">10</text>
<line x1="153.05" y1="401.9" x2="153.05" y2="405.1" stroke="#3a3a3a" stroke-width="1.3" />
<text class="s" x="153.05" y="415.9" text-anchor="middle">15</text>
<line x1="187.4" y1="401.9" x2="187.4" y2="405.1" stroke="#3a3a3a" stroke-width="1.3" />
<text class="s" x="187.4" y="415.9" text-anchor="middle">20</text>
<line x1="221.75" y1="401.9" x2="221.75" y2="405.1" stroke="#3a3a3a" stroke-width="1.3" />
<text class="s" x="221.75" y="415.9" text-anchor="middle">25</text>
<line x1="256.1" y1="401.9" x2="256.1" y2="405.1" stroke="#3a3a3a" stroke-width="1.3" />
<text class="s" x="256.1" y="415.9" text-anchor="middle">30</text>
<line x1="67.17" y1="401.9" x2="67.17" y2="403.7" stroke="#3a3a3a" stroke-width="1.2" />
<line x1="101.53" y1="401.9" x2="101.53" y2="403.7" stroke="#3a3a3a" stroke-width="1.2" />
<line x1="135.88" y1="401.9" x2="135.88" y2="403.7" stroke="#3a3a3a" stroke-width="1.2" />
<line x1="170.23" y1="401.9" x2="170.23" y2="403.7" stroke="#3a3a3a" stroke-width="1.2" />
<line x1="204.57" y1="401.9" x2="204.57" y2="403.7" stroke="#3a3a3a" stroke-width="1.2" />
<line x1="238.93" y1="401.9" x2="238.93" y2="403.7" stroke="#3a3a3a" stroke-width="1.2" />
<line x1="40" y1="401.8" x2="43.2" y2="401.8" stroke="#3a3a3a" stroke-width="1.3" />
<text class="s" x="38" y="404.8" text-anchor="end" letter-spacing="0.35">45</text>
<line x1="40" y1="357.77" x2="43.2" y2="357.77" stroke="#3a3a3a" stroke-width="1.3" />
<text class="s" x="38" y="360.77" text-anchor="end" letter-spacing="0.35">60</text>
<line x1="40" y1="313.75" x2="43.2" y2="313.75" stroke="#3a3a3a" stroke-width="1.3" />
<text class="s" x="38" y="316.75" text-anchor="end" letter-spacing="0.35">75</text>
<line x1="40" y1="269.72" x2="43.2" y2="269.72" stroke="#3a3a3a" stroke-width="1.3" />
<text class="s" x="38" y="272.72" text-anchor="end" letter-spacing="0.35">90</text>
<line x1="40" y1="225.7" x2="43.2" y2="225.7" stroke="#3a3a3a" stroke-width="1.3" />
<text class="s" x="38" y="228.7" text-anchor="end" letter-spacing="0.35">105</text>
<line x1="41.4" y1="379.79" x2="43.2" y2="379.79" stroke="#3a3a3a" stroke-width="1.2" />
<line x1="41.4" y1="335.76" x2="43.2" y2="335.76" stroke="#3a3a3a" stroke-width="1.2" />
<line x1="41.4" y1="291.74" x2="43.2" y2="291.74" stroke="#3a3a3a" stroke-width="1.2" />
<line x1="41.4" y1="247.71" x2="43.2" y2="247.71" stroke="#3a3a3a" stroke-width="1.2" />
<text class="s" x="151" y="428" font-size="12.3" text-anchor="middle">Time (d)</text>
<text class="s" transform="translate(16.1,321.3) rotate(-90) scale(1,1.1)" font-size="11.0" text-anchor="middle">C<tspan font-size="7.6" dy="2.4">Fe(II)</tspan><tspan dy="-2.4">/C</tspan><tspan font-size="7.6" dy="2.4">TFe(II)</tspan><tspan dy="-2.4"> (%)</tspan></text>
<text class="a" x="223.5" y="295.1" font-size="22">(c)</text>
<polyline points="50,322.26 63.74,282.05 84.35,282.05 111.83,285.87 139.31,281.17 159.92,265.32 201.14,255.05 249.23,253.29" fill="none" stroke="#e83444" stroke-width="1.3"/>
<polyline points="50,354.84 63.74,260.33 84.35,262.97 111.83,268.55 139.31,275.01 159.92,264.15 201.14,253 249.23,252.41" fill="none" stroke="#e83444" stroke-width="1.3"/>
<polyline points="50,256.81 63.74,259.45 84.35,253.58 111.83,254.46 139.31,253 159.92,249.77 201.14,245.95 249.23,245.66" fill="none" stroke="#3394d4" stroke-width="1.3"/>
<polyline points="50,270.9 63.74,244.78 84.35,248.01 111.83,245.07 139.31,243.9 159.92,242.43 201.14,240.67 249.23,241.26" fill="none" stroke="#3394d4" stroke-width="1.3"/>
<line x1="50" y1="314.04" x2="50" y2="330.48" stroke="#f03040" stroke-width="1.2" />
<line x1="47.8" y1="314.04" x2="52.2" y2="314.04" stroke="#f03040" stroke-width="1.2" />
<line x1="47.8" y1="330.48" x2="52.2" y2="330.48" stroke="#f03040" stroke-width="1.2" />
<line x1="63.74" y1="279.12" x2="63.74" y2="284.99" stroke="#f03040" stroke-width="1.2" />
<line x1="61.54" y1="279.12" x2="65.94" y2="279.12" stroke="#f03040" stroke-width="1.2" />
<line x1="61.54" y1="284.99" x2="65.94" y2="284.99" stroke="#f03040" stroke-width="1.2" />
<line x1="84.35" y1="276.18" x2="84.35" y2="287.92" stroke="#f03040" stroke-width="1.2" />
<line x1="82.15" y1="276.18" x2="86.55" y2="276.18" stroke="#f03040" stroke-width="1.2" />
<line x1="82.15" y1="287.92" x2="86.55" y2="287.92" stroke="#f03040" stroke-width="1.2" />
<line x1="111.83" y1="284.4" x2="111.83" y2="287.33" stroke="#f03040" stroke-width="1.2" />
<line x1="109.63" y1="284.4" x2="114.03" y2="284.4" stroke="#f03040" stroke-width="1.2" />
<line x1="109.63" y1="287.33" x2="114.03" y2="287.33" stroke="#f03040" stroke-width="1.2" />
<line x1="139.31" y1="276.18" x2="139.31" y2="286.16" stroke="#f03040" stroke-width="1.2" />
<line x1="137.11" y1="276.18" x2="141.51" y2="276.18" stroke="#f03040" stroke-width="1.2" />
<line x1="137.11" y1="286.16" x2="141.51" y2="286.16" stroke="#f03040" stroke-width="1.2" />
<line x1="159.92" y1="259.45" x2="159.92" y2="271.19" stroke="#f03040" stroke-width="1.2" />
<line x1="157.72" y1="259.45" x2="162.12" y2="259.45" stroke="#f03040" stroke-width="1.2" />
<line x1="157.72" y1="271.19" x2="162.12" y2="271.19" stroke="#f03040" stroke-width="1.2" />
<line x1="201.14" y1="251.53" x2="201.14" y2="258.57" stroke="#f03040" stroke-width="1.2" />
<line x1="198.94" y1="251.53" x2="203.34" y2="251.53" stroke="#f03040" stroke-width="1.2" />
<line x1="198.94" y1="258.57" x2="203.34" y2="258.57" stroke="#f03040" stroke-width="1.2" />
<line x1="249.23" y1="250.35" x2="249.23" y2="256.22" stroke="#f03040" stroke-width="1.2" />
<line x1="247.03" y1="250.35" x2="251.43" y2="250.35" stroke="#f03040" stroke-width="1.2" />
<line x1="247.03" y1="256.22" x2="251.43" y2="256.22" stroke="#f03040" stroke-width="1.2" />
<line x1="50" y1="325.49" x2="50" y2="384.19" stroke="#f03040" stroke-width="1.2" />
<line x1="47.8" y1="325.49" x2="52.2" y2="325.49" stroke="#f03040" stroke-width="1.2" />
<line x1="47.8" y1="384.19" x2="52.2" y2="384.19" stroke="#f03040" stroke-width="1.2" />
<line x1="63.74" y1="255.93" x2="63.74" y2="264.74" stroke="#f03040" stroke-width="1.2" />
<line x1="61.54" y1="255.93" x2="65.94" y2="255.93" stroke="#f03040" stroke-width="1.2" />
<line x1="61.54" y1="264.74" x2="65.94" y2="264.74" stroke="#f03040" stroke-width="1.2" />
<line x1="84.35" y1="260.63" x2="84.35" y2="265.32" stroke="#f03040" stroke-width="1.2" />
<line x1="82.15" y1="260.63" x2="86.55" y2="260.63" stroke="#f03040" stroke-width="1.2" />
<line x1="82.15" y1="265.32" x2="86.55" y2="265.32" stroke="#f03040" stroke-width="1.2" />
<line x1="111.83" y1="261.51" x2="111.83" y2="275.59" stroke="#f03040" stroke-width="1.2" />
<line x1="109.63" y1="261.51" x2="114.03" y2="261.51" stroke="#f03040" stroke-width="1.2" />
<line x1="109.63" y1="275.59" x2="114.03" y2="275.59" stroke="#f03040" stroke-width="1.2" />
<line x1="139.31" y1="265.62" x2="139.31" y2="284.4" stroke="#f03040" stroke-width="1.2" />
<line x1="137.11" y1="265.62" x2="141.51" y2="265.62" stroke="#f03040" stroke-width="1.2" />
<line x1="137.11" y1="284.4" x2="141.51" y2="284.4" stroke="#f03040" stroke-width="1.2" />
<line x1="159.92" y1="254.17" x2="159.92" y2="274.13" stroke="#f03040" stroke-width="1.2" />
<line x1="157.72" y1="254.17" x2="162.12" y2="254.17" stroke="#f03040" stroke-width="1.2" />
<line x1="157.72" y1="274.13" x2="162.12" y2="274.13" stroke="#f03040" stroke-width="1.2" />
<line x1="201.14" y1="245.07" x2="201.14" y2="260.92" stroke="#f03040" stroke-width="1.2" />
<line x1="198.94" y1="245.07" x2="203.34" y2="245.07" stroke="#f03040" stroke-width="1.2" />
<line x1="198.94" y1="260.92" x2="203.34" y2="260.92" stroke="#f03040" stroke-width="1.2" />
<line x1="249.23" y1="247.42" x2="249.23" y2="257.4" stroke="#f03040" stroke-width="1.2" />
<line x1="247.03" y1="247.42" x2="251.43" y2="247.42" stroke="#f03040" stroke-width="1.2" />
<line x1="247.03" y1="257.4" x2="251.43" y2="257.4" stroke="#f03040" stroke-width="1.2" />
<line x1="50" y1="249.77" x2="50" y2="263.86" stroke="#1a8ee0" stroke-width="1.2" />
<line x1="47.8" y1="249.77" x2="52.2" y2="249.77" stroke="#1a8ee0" stroke-width="1.2" />
<line x1="47.8" y1="263.86" x2="52.2" y2="263.86" stroke="#1a8ee0" stroke-width="1.2" />
<line x1="63.74" y1="257.99" x2="63.74" y2="260.92" stroke="#1a8ee0" stroke-width="1.2" />
<line x1="61.54" y1="257.99" x2="65.94" y2="257.99" stroke="#1a8ee0" stroke-width="1.2" />
<line x1="61.54" y1="260.92" x2="65.94" y2="260.92" stroke="#1a8ee0" stroke-width="1.2" />
<line x1="84.35" y1="252.11" x2="84.35" y2="255.05" stroke="#1a8ee0" stroke-width="1.2" />
<line x1="82.15" y1="252.11" x2="86.55" y2="252.11" stroke="#1a8ee0" stroke-width="1.2" />
<line x1="82.15" y1="255.05" x2="86.55" y2="255.05" stroke="#1a8ee0" stroke-width="1.2" />
<line x1="111.83" y1="252.11" x2="111.83" y2="256.81" stroke="#1a8ee0" stroke-width="1.2" />
<line x1="109.63" y1="252.11" x2="114.03" y2="252.11" stroke="#1a8ee0" stroke-width="1.2" />
<line x1="109.63" y1="256.81" x2="114.03" y2="256.81" stroke="#1a8ee0" stroke-width="1.2" />
<line x1="139.31" y1="251.53" x2="139.31" y2="254.46" stroke="#1a8ee0" stroke-width="1.2" />
<line x1="137.11" y1="251.53" x2="141.51" y2="251.53" stroke="#1a8ee0" stroke-width="1.2" />
<line x1="137.11" y1="254.46" x2="141.51" y2="254.46" stroke="#1a8ee0" stroke-width="1.2" />
<line x1="159.92" y1="248.3" x2="159.92" y2="251.23" stroke="#1a8ee0" stroke-width="1.2" />
<line x1="157.72" y1="248.3" x2="162.12" y2="248.3" stroke="#1a8ee0" stroke-width="1.2" />
<line x1="157.72" y1="251.23" x2="162.12" y2="251.23" stroke="#1a8ee0" stroke-width="1.2" />
<line x1="201.14" y1="244.48" x2="201.14" y2="247.42" stroke="#1a8ee0" stroke-width="1.2" />
<line x1="198.94" y1="244.48" x2="203.34" y2="244.48" stroke="#1a8ee0" stroke-width="1.2" />
<line x1="198.94" y1="247.42" x2="203.34" y2="247.42" stroke="#1a8ee0" stroke-width="1.2" />
<line x1="249.23" y1="244.19" x2="249.23" y2="247.13" stroke="#1a8ee0" stroke-width="1.2" />
<line x1="247.03" y1="244.19" x2="251.43" y2="244.19" stroke="#1a8ee0" stroke-width="1.2" />
<line x1="247.03" y1="247.13" x2="251.43" y2="247.13" stroke="#1a8ee0" stroke-width="1.2" />
<line x1="50" y1="265.03" x2="50" y2="276.77" stroke="#1a8ee0" stroke-width="1.2" />
<line x1="47.8" y1="265.03" x2="52.2" y2="265.03" stroke="#1a8ee0" stroke-width="1.2" />
<line x1="47.8" y1="276.77" x2="52.2" y2="276.77" stroke="#1a8ee0" stroke-width="1.2" />
<line x1="63.74" y1="242.43" x2="63.74" y2="247.13" stroke="#1a8ee0" stroke-width="1.2" />
<line x1="61.54" y1="242.43" x2="65.94" y2="242.43" stroke="#1a8ee0" stroke-width="1.2" />
<line x1="61.54" y1="247.13" x2="65.94" y2="247.13" stroke="#1a8ee0" stroke-width="1.2" />
<line x1="84.35" y1="245.66" x2="84.35" y2="250.35" stroke="#1a8ee0" stroke-width="1.2" />
<line x1="82.15" y1="245.66" x2="86.55" y2="245.66" stroke="#1a8ee0" stroke-width="1.2" />
<line x1="82.15" y1="250.35" x2="86.55" y2="250.35" stroke="#1a8ee0" stroke-width="1.2" />
<line x1="111.83" y1="244.19" x2="111.83" y2="245.95" stroke="#1a8ee0" stroke-width="1.2" />
<line x1="109.63" y1="244.19" x2="114.03" y2="244.19" stroke="#1a8ee0" stroke-width="1.2" />
<line x1="109.63" y1="245.95" x2="114.03" y2="245.95" stroke="#1a8ee0" stroke-width="1.2" />
<line x1="139.31" y1="243.02" x2="139.31" y2="244.78" stroke="#1a8ee0" stroke-width="1.2" />
<line x1="137.11" y1="243.02" x2="141.51" y2="243.02" stroke="#1a8ee0" stroke-width="1.2" />
<line x1="137.11" y1="244.78" x2="141.51" y2="244.78" stroke="#1a8ee0" stroke-width="1.2" />
<line x1="159.92" y1="241.55" x2="159.92" y2="243.31" stroke="#1a8ee0" stroke-width="1.2" />
<line x1="157.72" y1="241.55" x2="162.12" y2="241.55" stroke="#1a8ee0" stroke-width="1.2" />
<line x1="157.72" y1="243.31" x2="162.12" y2="243.31" stroke="#1a8ee0" stroke-width="1.2" />
<line x1="201.14" y1="239.79" x2="201.14" y2="241.55" stroke="#1a8ee0" stroke-width="1.2" />
<line x1="198.94" y1="239.79" x2="203.34" y2="239.79" stroke="#1a8ee0" stroke-width="1.2" />
<line x1="198.94" y1="241.55" x2="203.34" y2="241.55" stroke="#1a8ee0" stroke-width="1.2" />
<line x1="249.23" y1="240.38" x2="249.23" y2="242.14" stroke="#1a8ee0" stroke-width="1.2" />
<line x1="247.03" y1="240.38" x2="251.43" y2="240.38" stroke="#1a8ee0" stroke-width="1.2" />
<line x1="247.03" y1="242.14" x2="251.43" y2="242.14" stroke="#1a8ee0" stroke-width="1.2" />
<polygon points="50,319.69 52.64,323.98 47.36,323.98" fill="#fff" stroke="#f03040" stroke-width="1.4"/>
<polygon points="63.74,279.48 66.38,283.77 61.1,283.77" fill="#fff" stroke="#f03040" stroke-width="1.4"/>
<polygon points="84.35,279.48 86.99,283.77 81.71,283.77" fill="#fff" stroke="#f03040" stroke-width="1.4"/>
<polygon points="111.83,283.29 114.47,287.58 109.19,287.58" fill="#fff" stroke="#f03040" stroke-width="1.4"/>
<polygon points="139.31,278.6 141.95,282.89 136.67,282.89" fill="#fff" stroke="#f03040" stroke-width="1.4"/>
<polygon points="159.92,262.75 162.56,267.04 157.28,267.04" fill="#fff" stroke="#f03040" stroke-width="1.4"/>
<polygon points="201.14,252.48 203.78,256.77 198.5,256.77" fill="#fff" stroke="#f03040" stroke-width="1.4"/>
<polygon points="249.23,250.72 251.87,255.01 246.59,255.01" fill="#fff" stroke="#f03040" stroke-width="1.4"/>
<polygon points="50,352.27 52.75,356.56 47.25,356.56" fill="#ff1a1a" stroke="#ff1a1a" stroke-width="0.6"/>
<polygon points="63.74,257.76 66.49,262.05 60.99,262.05" fill="#ff1a1a" stroke="#ff1a1a" stroke-width="0.6"/>
<polygon points="84.35,260.4 87.1,264.69 81.6,264.69" fill="#ff1a1a" stroke="#ff1a1a" stroke-width="0.6"/>
<polygon points="111.83,265.98 114.58,270.27 109.08,270.27" fill="#ff1a1a" stroke="#ff1a1a" stroke-width="0.6"/>
<polygon points="139.31,272.43 142.06,276.72 136.56,276.72" fill="#ff1a1a" stroke="#ff1a1a" stroke-width="0.6"/>
<polygon points="159.92,261.57 162.67,265.86 157.17,265.86" fill="#ff1a1a" stroke="#ff1a1a" stroke-width="0.6"/>
<polygon points="201.14,250.42 203.89,254.71 198.39,254.71" fill="#ff1a1a" stroke="#ff1a1a" stroke-width="0.6"/>
<polygon points="249.23,249.83 251.98,254.12 246.48,254.12" fill="#ff1a1a" stroke="#ff1a1a" stroke-width="0.6"/>
<rect x="48.3" y="255.11" width="3.4" height="3.4" fill="#fff" stroke="#1a8ee0" stroke-width="1.4"/>
<rect x="62.04" y="257.75" width="3.4" height="3.4" fill="#fff" stroke="#1a8ee0" stroke-width="1.4"/>
<rect x="82.65" y="251.88" width="3.4" height="3.4" fill="#fff" stroke="#1a8ee0" stroke-width="1.4"/>
<rect x="110.13" y="252.76" width="3.4" height="3.4" fill="#fff" stroke="#1a8ee0" stroke-width="1.4"/>
<rect x="137.61" y="251.3" width="3.4" height="3.4" fill="#fff" stroke="#1a8ee0" stroke-width="1.4"/>
<rect x="158.22" y="248.07" width="3.4" height="3.4" fill="#fff" stroke="#1a8ee0" stroke-width="1.4"/>
<rect x="199.44" y="244.25" width="3.4" height="3.4" fill="#fff" stroke="#1a8ee0" stroke-width="1.4"/>
<rect x="247.53" y="243.96" width="3.4" height="3.4" fill="#fff" stroke="#1a8ee0" stroke-width="1.4"/>
<rect x="47.8" y="268.7" width="4.4" height="4.4" fill="#0a6ee6"/>
<rect x="61.54" y="242.58" width="4.4" height="4.4" fill="#0a6ee6"/>
<rect x="82.15" y="245.81" width="4.4" height="4.4" fill="#0a6ee6"/>
<rect x="109.63" y="242.87" width="4.4" height="4.4" fill="#0a6ee6"/>
<rect x="137.11" y="241.7" width="4.4" height="4.4" fill="#0a6ee6"/>
<rect x="157.72" y="240.23" width="4.4" height="4.4" fill="#0a6ee6"/>
<rect x="198.94" y="238.47" width="4.4" height="4.4" fill="#0a6ee6"/>
<rect x="247.03" y="239.06" width="4.4" height="4.4" fill="#0a6ee6"/>
<line x1="113" y1="330.3" x2="135.8" y2="330.3" stroke="#e83444" stroke-width="1.3" />
<polygon points="124.4,327.73 127.04,332.02 121.76,332.02" fill="#fff" stroke="#f03040" stroke-width="1.4"/>
<text class="s" x="139.2" y="333.8" letter-spacing="0.15">Hem_{100}</text>
<line x1="113" y1="343.75" x2="135.8" y2="343.75" stroke="#3394d4" stroke-width="1.3" />
<rect x="122.7" y="342.05" width="3.4" height="3.4" fill="#fff" stroke="#1a8ee0" stroke-width="1.4"/>
<text class="s" x="139.2" y="347.25" letter-spacing="0.15">Hem_{001}</text>
<line x1="113" y1="357.2" x2="135.8" y2="357.2" stroke="#e83444" stroke-width="1.3" />
<polygon points="124.4,354.63 127.15,358.92 121.65,358.92" fill="#ff1a1a" stroke="#ff1a1a" stroke-width="0.6"/>
<text class="s" x="139.2" y="360.7" letter-spacing="0.15">Hem_{100}+AQDS</text>
<line x1="113" y1="370.65" x2="135.8" y2="370.65" stroke="#3394d4" stroke-width="1.3" />
<rect x="122.2" y="368.45" width="4.4" height="4.4" fill="#0a6ee6"/>
<text class="s" x="139.2" y="374.15" letter-spacing="0.15">Hem_{001}+AQDS</text>
<rect x="321.8" y="226.2" width="218.7" height="176.7" fill="none" stroke="#3a3a3a" stroke-width="1.6"/>
<line x1="328.6" y1="402.9" x2="328.6" y2="406.1" stroke="#3a3a3a" stroke-width="1.3" />
<text class="s" x="328.6" y="416.9" text-anchor="middle">0</text>
<line x1="362.9" y1="402.9" x2="362.9" y2="406.1" stroke="#3a3a3a" stroke-width="1.3" />
<text class="s" x="362.9" y="416.9" text-anchor="middle">5</text>
<line x1="397.2" y1="402.9" x2="397.2" y2="406.1" stroke="#3a3a3a" stroke-width="1.3" />
<text class="s" x="397.2" y="416.9" text-anchor="middle">10</text>
<line x1="431.5" y1="402.9" x2="431.5" y2="406.1" stroke="#3a3a3a" stroke-width="1.3" />
<text class="s" x="431.5" y="416.9" text-anchor="middle">15</text>
<line x1="465.8" y1="402.9" x2="465.8" y2="406.1" stroke="#3a3a3a" stroke-width="1.3" />
<text class="s" x="465.8" y="416.9" text-anchor="middle">20</text>
<line x1="500.1" y1="402.9" x2="500.1" y2="406.1" stroke="#3a3a3a" stroke-width="1.3" />
<text class="s" x="500.1" y="416.9" text-anchor="middle">25</text>
<line x1="534.4" y1="402.9" x2="534.4" y2="406.1" stroke="#3a3a3a" stroke-width="1.3" />
<text class="s" x="534.4" y="416.9" text-anchor="middle">30</text>
<line x1="345.75" y1="402.9" x2="345.75" y2="404.7" stroke="#3a3a3a" stroke-width="1.2" />
<line x1="380.05" y1="402.9" x2="380.05" y2="404.7" stroke="#3a3a3a" stroke-width="1.2" />
<line x1="414.35" y1="402.9" x2="414.35" y2="404.7" stroke="#3a3a3a" stroke-width="1.2" />
<line x1="448.65" y1="402.9" x2="448.65" y2="404.7" stroke="#3a3a3a" stroke-width="1.2" />
<line x1="482.95" y1="402.9" x2="482.95" y2="404.7" stroke="#3a3a3a" stroke-width="1.2" />
<line x1="517.25" y1="402.9" x2="517.25" y2="404.7" stroke="#3a3a3a" stroke-width="1.2" />
<line x1="318.6" y1="402.81" x2="321.8" y2="402.81" stroke="#3a3a3a" stroke-width="1.3" />
<text class="s" x="316.6" y="405.81" text-anchor="end" letter-spacing="0.35">75</text>
<line x1="318.6" y1="343.94" x2="321.8" y2="343.94" stroke="#3a3a3a" stroke-width="1.3" />
<text class="s" x="316.6" y="346.94" text-anchor="end" letter-spacing="0.35">85</text>
<line x1="318.6" y1="285.07" x2="321.8" y2="285.07" stroke="#3a3a3a" stroke-width="1.3" />
<text class="s" x="316.6" y="288.07" text-anchor="end" letter-spacing="0.35">95</text>
<line x1="318.6" y1="226.2" x2="321.8" y2="226.2" stroke="#3a3a3a" stroke-width="1.3" />
<text class="s" x="316.6" y="229.2" text-anchor="end" letter-spacing="0.35">105</text>
<line x1="320" y1="373.38" x2="321.8" y2="373.38" stroke="#3a3a3a" stroke-width="1.2" />
<line x1="320" y1="314.5" x2="321.8" y2="314.5" stroke="#3a3a3a" stroke-width="1.2" />
<line x1="320" y1="255.63" x2="321.8" y2="255.63" stroke="#3a3a3a" stroke-width="1.2" />
<text class="s" x="429" y="429" font-size="12.3" text-anchor="middle">Time (d)</text>
<text class="s" transform="translate(292.7,321.9) rotate(-90) scale(1,1.1)" font-size="11.0" text-anchor="middle">C<tspan font-size="7.6" dy="2.4">Fe(II)</tspan><tspan dy="-2.4">/C</tspan><tspan font-size="7.6" dy="2.4">TFe(II)</tspan><tspan dy="-2.4"> (%)</tspan></text>
<text class="a" x="501.8" y="292.4" font-size="22">(d)</text>
<polyline points="328.6,323.92 342.32,267.41 362.9,263.88 390.34,261.52 417.78,259.17 438.36,257.99 479.52,256.81 527.54,257.99" fill="none" stroke="#e83444" stroke-width="1.3"/>
<polyline points="328.6,295.37 342.32,268 362.9,263.58 390.34,262.99 417.78,260.34 438.36,258.58 479.52,257.99 527.54,257.4" fill="none" stroke="#3394d4" stroke-width="1.3"/>
<polyline points="328.6,373.96 342.32,260.34 362.9,257.11 390.34,256.22 417.78,257.99 438.36,257.4 479.52,256.81 527.54,257.4" fill="none" stroke="#e83444" stroke-width="1.3"/>
<polyline points="328.6,313.03 342.32,260.93 362.9,256.81 390.34,255.93 417.78,256.81 438.36,256.81 479.52,257.99 527.54,257.4" fill="none" stroke="#3394d4" stroke-width="1.3"/>
<line x1="328.6" y1="314.5" x2="328.6" y2="333.34" stroke="#f03040" stroke-width="1.2" />
<line x1="326.4" y1="314.5" x2="330.8" y2="314.5" stroke="#f03040" stroke-width="1.2" />
<line x1="326.4" y1="333.34" x2="330.8" y2="333.34" stroke="#f03040" stroke-width="1.2" />
<line x1="342.32" y1="265.64" x2="342.32" y2="269.18" stroke="#f03040" stroke-width="1.2" />
<line x1="340.12" y1="265.64" x2="344.52" y2="265.64" stroke="#f03040" stroke-width="1.2" />
<line x1="340.12" y1="269.18" x2="344.52" y2="269.18" stroke="#f03040" stroke-width="1.2" />
<line x1="362.9" y1="262.7" x2="362.9" y2="265.05" stroke="#f03040" stroke-width="1.2" />
<line x1="360.7" y1="262.7" x2="365.1" y2="262.7" stroke="#f03040" stroke-width="1.2" />
<line x1="360.7" y1="265.05" x2="365.1" y2="265.05" stroke="#f03040" stroke-width="1.2" />
<line x1="390.34" y1="260.34" x2="390.34" y2="262.7" stroke="#f03040" stroke-width="1.2" />
<line x1="388.14" y1="260.34" x2="392.54" y2="260.34" stroke="#f03040" stroke-width="1.2" />
<line x1="388.14" y1="262.7" x2="392.54" y2="262.7" stroke="#f03040" stroke-width="1.2" />
<line x1="417.78" y1="257.99" x2="417.78" y2="260.34" stroke="#f03040" stroke-width="1.2" />
<line x1="415.58" y1="257.99" x2="419.98" y2="257.99" stroke="#f03040" stroke-width="1.2" />
<line x1="415.58" y1="260.34" x2="419.98" y2="260.34" stroke="#f03040" stroke-width="1.2" />
<line x1="438.36" y1="256.81" x2="438.36" y2="259.17" stroke="#f03040" stroke-width="1.2" />
<line x1="436.16" y1="256.81" x2="440.56" y2="256.81" stroke="#f03040" stroke-width="1.2" />
<line x1="436.16" y1="259.17" x2="440.56" y2="259.17" stroke="#f03040" stroke-width="1.2" />
<line x1="479.52" y1="255.63" x2="479.52" y2="257.99" stroke="#f03040" stroke-width="1.2" />
<line x1="477.32" y1="255.63" x2="481.72" y2="255.63" stroke="#f03040" stroke-width="1.2" />
<line x1="477.32" y1="257.99" x2="481.72" y2="257.99" stroke="#f03040" stroke-width="1.2" />
<line x1="527.54" y1="256.81" x2="527.54" y2="259.17" stroke="#f03040" stroke-width="1.2" />
<line x1="525.34" y1="256.81" x2="529.74" y2="256.81" stroke="#f03040" stroke-width="1.2" />
<line x1="525.34" y1="259.17" x2="529.74" y2="259.17" stroke="#f03040" stroke-width="1.2" />
<line x1="328.6" y1="293.61" x2="328.6" y2="297.14" stroke="#1a8ee0" stroke-width="1.2" />
<line x1="326.4" y1="293.61" x2="330.8" y2="293.61" stroke="#1a8ee0" stroke-width="1.2" />
<line x1="326.4" y1="297.14" x2="330.8" y2="297.14" stroke="#1a8ee0" stroke-width="1.2" />
<line x1="342.32" y1="266.23" x2="342.32" y2="269.76" stroke="#1a8ee0" stroke-width="1.2" />
<line x1="340.12" y1="266.23" x2="344.52" y2="266.23" stroke="#1a8ee0" stroke-width="1.2" />
<line x1="340.12" y1="269.76" x2="344.52" y2="269.76" stroke="#1a8ee0" stroke-width="1.2" />
<line x1="362.9" y1="262.41" x2="362.9" y2="264.76" stroke="#1a8ee0" stroke-width="1.2" />
<line x1="360.7" y1="262.41" x2="365.1" y2="262.41" stroke="#1a8ee0" stroke-width="1.2" />
<line x1="360.7" y1="264.76" x2="365.1" y2="264.76" stroke="#1a8ee0" stroke-width="1.2" />
<line x1="390.34" y1="261.82" x2="390.34" y2="264.17" stroke="#1a8ee0" stroke-width="1.2" />
<line x1="388.14" y1="261.82" x2="392.54" y2="261.82" stroke="#1a8ee0" stroke-width="1.2" />
<line x1="388.14" y1="264.17" x2="392.54" y2="264.17" stroke="#1a8ee0" stroke-width="1.2" />
<line x1="417.78" y1="259.17" x2="417.78" y2="261.52" stroke="#1a8ee0" stroke-width="1.2" />
<line x1="415.58" y1="259.17" x2="419.98" y2="259.17" stroke="#1a8ee0" stroke-width="1.2" />
<line x1="415.58" y1="261.52" x2="419.98" y2="261.52" stroke="#1a8ee0" stroke-width="1.2" />
<line x1="438.36" y1="257.4" x2="438.36" y2="259.76" stroke="#1a8ee0" stroke-width="1.2" />
<line x1="436.16" y1="257.4" x2="440.56" y2="257.4" stroke="#1a8ee0" stroke-width="1.2" />
<line x1="436.16" y1="259.76" x2="440.56" y2="259.76" stroke="#1a8ee0" stroke-width="1.2" />
<line x1="479.52" y1="256.81" x2="479.52" y2="259.17" stroke="#1a8ee0" stroke-width="1.2" />
<line x1="477.32" y1="256.81" x2="481.72" y2="256.81" stroke="#1a8ee0" stroke-width="1.2" />
<line x1="477.32" y1="259.17" x2="481.72" y2="259.17" stroke="#1a8ee0" stroke-width="1.2" />
<line x1="527.54" y1="256.22" x2="527.54" y2="258.58" stroke="#1a8ee0" stroke-width="1.2" />
<line x1="525.34" y1="256.22" x2="529.74" y2="256.22" stroke="#1a8ee0" stroke-width="1.2" />
<line x1="525.34" y1="258.58" x2="529.74" y2="258.58" stroke="#1a8ee0" stroke-width="1.2" />
<line x1="328.6" y1="369.84" x2="328.6" y2="378.08" stroke="#f03040" stroke-width="1.2" />
<line x1="326.4" y1="369.84" x2="330.8" y2="369.84" stroke="#f03040" stroke-width="1.2" />
<line x1="326.4" y1="378.08" x2="330.8" y2="378.08" stroke="#f03040" stroke-width="1.2" />
<line x1="342.32" y1="256.81" x2="342.32" y2="263.88" stroke="#f03040" stroke-width="1.2" />
<line x1="340.12" y1="256.81" x2="344.52" y2="256.81" stroke="#f03040" stroke-width="1.2" />
<line x1="340.12" y1="263.88" x2="344.52" y2="263.88" stroke="#f03040" stroke-width="1.2" />
<line x1="362.9" y1="255.93" x2="362.9" y2="258.28" stroke="#f03040" stroke-width="1.2" />
<line x1="360.7" y1="255.93" x2="365.1" y2="255.93" stroke="#f03040" stroke-width="1.2" />
<line x1="360.7" y1="258.28" x2="365.1" y2="258.28" stroke="#f03040" stroke-width="1.2" />
<line x1="390.34" y1="255.05" x2="390.34" y2="257.4" stroke="#f03040" stroke-width="1.2" />
<line x1="388.14" y1="255.05" x2="392.54" y2="255.05" stroke="#f03040" stroke-width="1.2" />
<line x1="388.14" y1="257.4" x2="392.54" y2="257.4" stroke="#f03040" stroke-width="1.2" />
<line x1="417.78" y1="256.81" x2="417.78" y2="259.17" stroke="#f03040" stroke-width="1.2" />
<line x1="415.58" y1="256.81" x2="419.98" y2="256.81" stroke="#f03040" stroke-width="1.2" />
<line x1="415.58" y1="259.17" x2="419.98" y2="259.17" stroke="#f03040" stroke-width="1.2" />
<line x1="438.36" y1="256.22" x2="438.36" y2="258.58" stroke="#f03040" stroke-width="1.2" />
<line x1="436.16" y1="256.22" x2="440.56" y2="256.22" stroke="#f03040" stroke-width="1.2" />
<line x1="436.16" y1="258.58" x2="440.56" y2="258.58" stroke="#f03040" stroke-width="1.2" />
<line x1="479.52" y1="255.63" x2="479.52" y2="257.99" stroke="#f03040" stroke-width="1.2" />
<line x1="477.32" y1="255.63" x2="481.72" y2="255.63" stroke="#f03040" stroke-width="1.2" />
<line x1="477.32" y1="257.99" x2="481.72" y2="257.99" stroke="#f03040" stroke-width="1.2" />
<line x1="527.54" y1="256.22" x2="527.54" y2="258.58" stroke="#f03040" stroke-width="1.2" />
<line x1="525.34" y1="256.22" x2="529.74" y2="256.22" stroke="#f03040" stroke-width="1.2" />
<line x1="525.34" y1="258.58" x2="529.74" y2="258.58" stroke="#f03040" stroke-width="1.2" />
<line x1="328.6" y1="304.2" x2="328.6" y2="321.86" stroke="#1a8ee0" stroke-width="1.2" />
<line x1="326.4" y1="304.2" x2="330.8" y2="304.2" stroke="#1a8ee0" stroke-width="1.2" />
<line x1="326.4" y1="321.86" x2="330.8" y2="321.86" stroke="#1a8ee0" stroke-width="1.2" />
<line x1="342.32" y1="259.17" x2="342.32" y2="262.7" stroke="#1a8ee0" stroke-width="1.2" />
<line x1="340.12" y1="259.17" x2="344.52" y2="259.17" stroke="#1a8ee0" stroke-width="1.2" />
<line x1="340.12" y1="262.7" x2="344.52" y2="262.7" stroke="#1a8ee0" stroke-width="1.2" />
<line x1="362.9" y1="255.63" x2="362.9" y2="257.99" stroke="#1a8ee0" stroke-width="1.2" />
<line x1="360.7" y1="255.63" x2="365.1" y2="255.63" stroke="#1a8ee0" stroke-width="1.2" />
<line x1="360.7" y1="257.99" x2="365.1" y2="257.99" stroke="#1a8ee0" stroke-width="1.2" />
<line x1="390.34" y1="254.75" x2="390.34" y2="257.11" stroke="#1a8ee0" stroke-width="1.2" />
<line x1="388.14" y1="254.75" x2="392.54" y2="254.75" stroke="#1a8ee0" stroke-width="1.2" />
<line x1="388.14" y1="257.11" x2="392.54" y2="257.11" stroke="#1a8ee0" stroke-width="1.2" />
<line x1="417.78" y1="255.63" x2="417.78" y2="257.99" stroke="#1a8ee0" stroke-width="1.2" />
<line x1="415.58" y1="255.63" x2="419.98" y2="255.63" stroke="#1a8ee0" stroke-width="1.2" />
<line x1="415.58" y1="257.99" x2="419.98" y2="257.99" stroke="#1a8ee0" stroke-width="1.2" />
<line x1="438.36" y1="255.63" x2="438.36" y2="257.99" stroke="#1a8ee0" stroke-width="1.2" />
<line x1="436.16" y1="255.63" x2="440.56" y2="255.63" stroke="#1a8ee0" stroke-width="1.2" />
<line x1="436.16" y1="257.99" x2="440.56" y2="257.99" stroke="#1a8ee0" stroke-width="1.2" />
<line x1="479.52" y1="256.81" x2="479.52" y2="259.17" stroke="#1a8ee0" stroke-width="1.2" />
<line x1="477.32" y1="256.81" x2="481.72" y2="256.81" stroke="#1a8ee0" stroke-width="1.2" />
<line x1="477.32" y1="259.17" x2="481.72" y2="259.17" stroke="#1a8ee0" stroke-width="1.2" />
<line x1="527.54" y1="256.22" x2="527.54" y2="258.58" stroke="#1a8ee0" stroke-width="1.2" />
<line x1="525.34" y1="256.22" x2="529.74" y2="256.22" stroke="#1a8ee0" stroke-width="1.2" />
<line x1="525.34" y1="258.58" x2="529.74" y2="258.58" stroke="#1a8ee0" stroke-width="1.2" />
<polygon points="328.6,321.35 331.24,325.64 325.96,325.64" fill="#fff" stroke="#f03040" stroke-width="1.4"/>
<polygon points="342.32,264.83 344.96,269.12 339.68,269.12" fill="#fff" stroke="#f03040" stroke-width="1.4"/>
<polygon points="362.9,261.3 365.54,265.59 360.26,265.59" fill="#fff" stroke="#f03040" stroke-width="1.4"/>
<polygon points="390.34,258.95 392.98,263.24 387.7,263.24" fill="#fff" stroke="#f03040" stroke-width="1.4"/>
<polygon points="417.78,256.59 420.42,260.88 415.14,260.88" fill="#fff" stroke="#f03040" stroke-width="1.4"/>
<polygon points="438.36,255.42 441,259.71 435.72,259.71" fill="#fff" stroke="#f03040" stroke-width="1.4"/>
<polygon points="479.52,254.24 482.16,258.53 476.88,258.53" fill="#fff" stroke="#f03040" stroke-width="1.4"/>
<polygon points="527.54,255.42 530.18,259.71 524.9,259.71" fill="#fff" stroke="#f03040" stroke-width="1.4"/>
<rect x="326.9" y="293.67" width="3.4" height="3.4" fill="#fff" stroke="#1a8ee0" stroke-width="1.4"/>
<rect x="340.62" y="266.3" width="3.4" height="3.4" fill="#fff" stroke="#1a8ee0" stroke-width="1.4"/>
<rect x="361.2" y="261.88" width="3.4" height="3.4" fill="#fff" stroke="#1a8ee0" stroke-width="1.4"/>
<rect x="388.64" y="261.29" width="3.4" height="3.4" fill="#fff" stroke="#1a8ee0" stroke-width="1.4"/>
<rect x="416.08" y="258.64" width="3.4" height="3.4" fill="#fff" stroke="#1a8ee0" stroke-width="1.4"/>
<rect x="436.66" y="256.88" width="3.4" height="3.4" fill="#fff" stroke="#1a8ee0" stroke-width="1.4"/>
<rect x="477.82" y="256.29" width="3.4" height="3.4" fill="#fff" stroke="#1a8ee0" stroke-width="1.4"/>
<rect x="525.84" y="255.7" width="3.4" height="3.4" fill="#fff" stroke="#1a8ee0" stroke-width="1.4"/>
<polygon points="328.6,371.39 331.35,375.68 325.85,375.68" fill="#ff1a1a" stroke="#ff1a1a" stroke-width="0.6"/>
<polygon points="342.32,257.77 345.07,262.06 339.57,262.06" fill="#ff1a1a" stroke="#ff1a1a" stroke-width="0.6"/>
<polygon points="362.9,254.53 365.65,258.82 360.15,258.82" fill="#ff1a1a" stroke="#ff1a1a" stroke-width="0.6"/>
<polygon points="390.34,253.65 393.09,257.94 387.59,257.94" fill="#ff1a1a" stroke="#ff1a1a" stroke-width="0.6"/>
<polygon points="417.78,255.42 420.53,259.71 415.03,259.71" fill="#ff1a1a" stroke="#ff1a1a" stroke-width="0.6"/>
<polygon points="438.36,254.83 441.11,259.12 435.61,259.12" fill="#ff1a1a" stroke="#ff1a1a" stroke-width="0.6"/>
<polygon points="479.52,254.24 482.27,258.53 476.77,258.53" fill="#ff1a1a" stroke="#ff1a1a" stroke-width="0.6"/>
<polygon points="527.54,254.83 530.29,259.12 524.79,259.12" fill="#ff1a1a" stroke="#ff1a1a" stroke-width="0.6"/>
<rect x="326.4" y="310.83" width="4.4" height="4.4" fill="#0a6ee6"/>
<rect x="340.12" y="258.73" width="4.4" height="4.4" fill="#0a6ee6"/>
<rect x="360.7" y="254.61" width="4.4" height="4.4" fill="#0a6ee6"/>
<rect x="388.14" y="253.73" width="4.4" height="4.4" fill="#0a6ee6"/>
<rect x="415.58" y="254.61" width="4.4" height="4.4" fill="#0a6ee6"/>
<rect x="436.16" y="254.61" width="4.4" height="4.4" fill="#0a6ee6"/>
<rect x="477.32" y="255.79" width="4.4" height="4.4" fill="#0a6ee6"/>
<rect x="525.34" y="255.2" width="4.4" height="4.4" fill="#0a6ee6"/>
<line x1="384.5" y1="322.6" x2="407" y2="322.6" stroke="#e83444" stroke-width="1.3" />
<polygon points="395.75,320.03 398.39,324.32 393.11,324.32" fill="#fff" stroke="#f03040" stroke-width="1.4"/>
<text class="s" x="410" y="326.1" letter-spacing="0.2">Goe_H{110}</text>
<line x1="384.5" y1="335.6" x2="407" y2="335.6" stroke="#3394d4" stroke-width="1.3" />
<rect x="394.05" y="333.9" width="3.4" height="3.4" fill="#fff" stroke="#1a8ee0" stroke-width="1.4"/>
<text class="s" x="410" y="339.1" letter-spacing="0.2">Goe_L{110}</text>
<line x1="384.5" y1="348.6" x2="407" y2="348.6" stroke="#e83444" stroke-width="1.3" />
<polygon points="395.75,346.03 398.5,350.32 393,350.32" fill="#ff1a1a" stroke="#ff1a1a" stroke-width="0.6"/>
<text class="s" x="410" y="352.1" letter-spacing="0.2">Goe_H{110}+AQDS</text>
<line x1="384.5" y1="361.6" x2="407" y2="361.6" stroke="#3394d4" stroke-width="1.3" />
<rect x="393.55" y="359.4" width="4.4" height="4.4" fill="#0a6ee6"/>
<text class="s" x="410" y="365.1" letter-spacing="0.2">Goe_L{110}+AQDS</text>
<line x1="399" y1="115" x2="419" y2="115" stroke="#f04a55" stroke-width="2" stroke-dasharray="5,2.6"/>
<text class="s" x="426" y="118.5">Goe_H{110}-Control</text>
<line x1="399" y1="129" x2="419" y2="129" stroke="#2a6fd0" stroke-width="2" stroke-dasharray="5,2.6"/>
<text class="s" x="426" y="132.5">Goe_L{110}-Control</text>
</svg>
</body></html>
